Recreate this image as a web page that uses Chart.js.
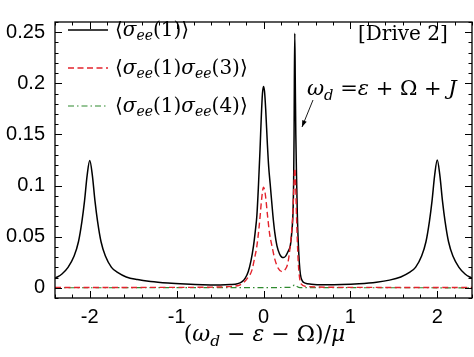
<!DOCTYPE html>
<html><head><meta charset="utf-8">
<script src="https://cdn.jsdelivr.net/npm/chart.js@4"></script>
<style>html,body{margin:0;padding:0;background:#fff}</style>
</head><body>
<canvas id="c" width="474" height="357"></canvas>
<script>
// ---- data ----
const blackX = [-2.40,-2.32,-2.25,-2.18,-2.13,-2.09,-2.06,-2.03,-2.00,-1.97,
  -1.94,-1.91,-1.87,-1.82,-1.75,-1.68,-1.58,-1.45,-1.30,-1.10,
  -0.90,-0.70,-0.50,-0.38,-0.30,-0.25,-0.21,-0.175,-0.145,-0.115,
  -0.095,-0.076,-0.058,-0.040,-0.025,-0.012,0.000,0.012,0.025,0.045,
  0.060,0.077,0.108,0.130,0.155,0.185,0.210,0.230,0.255,0.280,
  0.308,0.325,0.340,0.347,0.352,0.355,0.360,0.366,0.372,0.380,
  0.390,0.400,0.412,0.425,0.445,0.480,0.550,0.700,0.900,1.100,
  1.300,1.450,1.580,1.680,1.750,1.820,1.870,1.910,1.940,1.970,
  2.000,2.030,2.060,2.090,2.130,2.180,2.250,2.320,2.400];
const blackY = [0.0092,0.0135,0.0200,0.0310,0.0450,0.0650,0.0850,0.1100,0.1245,0.1100,
  0.0850,0.0650,0.0450,0.0310,0.0200,0.0150,0.0106,0.0080,0.0062,0.0047,
  0.0037,0.0030,0.0028,0.0032,0.0040,0.0058,0.0095,0.0160,0.0260,0.0410,
  0.0550,0.0710,0.1000,0.1350,0.1680,0.1900,0.1970,0.1920,0.1750,0.1400,
  0.1180,0.1015,0.0710,0.0540,0.0410,0.0330,0.0300,0.0295,0.0310,0.0350,
  0.0410,0.0540,0.0750,0.1050,0.1500,0.2000,0.2490,0.2000,0.1500,0.1100,
  0.0700,0.0450,0.0250,0.0130,0.0070,0.0045,0.0035,0.0030,0.0032,0.0040,
  0.0055,0.0075,0.0106,0.0150,0.0200,0.0310,0.0450,0.0650,0.0850,0.1100,
  0.1250,0.1100,0.0850,0.0650,0.0450,0.0310,0.0200,0.0135,0.0092];
const redX = [-2.40,-1.00,-0.50,-0.35,-0.28,-0.23,-0.18,-0.134,-0.100,-0.076,
  -0.055,-0.038,-0.020,0.000,0.020,0.046,0.070,0.097,0.130,0.170,
  0.212,0.250,0.280,0.308,0.325,0.339,0.350,0.360,0.370,0.380,
  0.390,0.400,0.415,0.430,0.500,1.000,2.400];
const redY = [0.0003,0.0004,0.0008,0.0015,0.0025,0.0050,0.0100,0.0170,0.0300,0.0410,
  0.0560,0.0710,0.0880,0.0985,0.0920,0.0710,0.0530,0.0410,0.0280,0.0190,
  0.0158,0.0180,0.0240,0.0410,0.0560,0.0750,0.1000,0.1170,0.1000,0.0700,
  0.0450,0.0250,0.0100,0.0040,0.0012,0.0004,0.0003];
const greenX = [-2.40,0.00,0.30,0.33,0.36,0.39,0.42,2.40];
const greenY = [0.0000,0.0002,0.0004,0.0010,0.0030,0.0010,0.0002,0.0000];

const xTickValues = [-2,-1,0,1,2];
const xTickLabels = ['-2','-1','0','1','2'];
const yTickValues = [0,0.05,0.1,0.15,0.2,0.25];
const yTickLabels = ['0','0.05','0.1','0.15','0.2','0.25'];

// legend / annotation texts as [text, style] parts (r = roman, i = italic, s = subscript)
const legend1 = [['⟨','r'],['σ','i'],['ee','s'],['(1)','r'],['⟩','r']];
const legend2 = [['⟨','r'],['σ','i'],['ee','s'],['(1)','r'],['σ','i'],['ee','s'],['(3)','r'],['⟩','r']];
const legend3 = [['⟨','r'],['σ','i'],['ee','s'],['(1)','r'],['σ','i'],['ee','s'],['(4)','r'],['⟩','r']];
const driveLabel = [['[Drive 2]','r']];
const resonanceLabel = [['ω','i'],['d','s'],[' =','r'],['ε','i'],[' + Ω + ','r'],['J','i']];
const xTitle = [['(','r'],['ω','i'],['d','s'],[' − ','r'],['ε','i'],[' − Ω)/','r'],['μ','i']];

const BLACK = '#000000', RED = '#e3232c', GREEN = '#2f8a2f';
const MATHFONT = '"DejaVu Serif", "Liberation Serif", serif';

function pts(xs, ys){ return xs.map((x,i)=>({x:x, y:ys[i]})); }

function partsWidth(ctx, parts, size){
  let w=0;
  for(const [t,s] of parts){
    const fs = s==='s' ? size*0.7 : size;
    ctx.font = (s==='r' ? '' : 'italic ') + fs + 'px ' + MATHFONT;
    w += ctx.measureText(t).width;
  }
  return w;
}
function drawParts(ctx, x, y, parts, size){
  ctx.fillStyle = '#000';
  ctx.textBaseline = 'alphabetic';
  ctx.textAlign = 'left';
  for(const [t,s] of parts){
    const fs = s==='s' ? size*0.7 : size;
    const dy = s==='s' ? size*0.22 : 0;
    ctx.font = (s==='r' ? '' : 'italic ') + fs + 'px ' + MATHFONT;
    ctx.fillText(t, x, y+dy);
    x += ctx.measureText(t).width;
  }
  return x;
}

const decor = {
  id:'decor',
  afterDatasetsDraw(chart){
    const ctx = chart.ctx, a = chart.chartArea;
    const xs = chart.scales.x, ys = chart.scales.y;
    ctx.save();
    // frame
    ctx.strokeStyle = '#000'; ctx.lineWidth = 1.3;
    ctx.strokeRect(a.left, a.top, a.right-a.left, a.bottom-a.top);
    // ticks (inside, on all four sides)
    ctx.lineWidth = 1;
    ctx.beginPath();
    for(let k=-12;k<=12;k++){
      const v = k*0.2;
      const px = Math.round(xs.getPixelForValue(v))+0.5;
      const major = Math.abs(v - Math.round(v)) < 1e-6;
      const L = major ? 7 : 3.5;
      ctx.moveTo(px, a.bottom); ctx.lineTo(px, a.bottom-L);
      ctx.moveTo(px, a.top); ctx.lineTo(px, a.top+L);
    }
    for(let k=-1;k<=26;k++){
      const v = k*0.01;
      const py = Math.round(ys.getPixelForValue(v))+0.5;
      const major = k%5===0;
      const L = major ? 7 : 3.5;
      ctx.moveTo(a.left, py); ctx.lineTo(a.left+L, py);
      ctx.moveTo(a.right, py); ctx.lineTo(a.right-L, py);
    }
    ctx.stroke();
    // legend
    const ds = chart.data.datasets;
    const rows = [[legend1, 30, 0],[legend2, 68, 1],[legend3, 106, 2]];
    for(const [parts, yy, di] of rows){
      const d = ds[di];
      ctx.strokeStyle = d.borderColor; ctx.lineWidth = d.borderWidth;
      ctx.setLineDash(d.borderDash || []);
      ctx.beginPath(); ctx.moveTo(68, yy); ctx.lineTo(108, yy); ctx.stroke();
      ctx.setLineDash([]);
      drawParts(ctx, 115, yy+6, parts, 20);
    }
    // annotations
    drawParts(ctx, 358, 40, driveLabel, 20);
    drawParts(ctx, 307, 95, resonanceLabel, 21);
    // arrow
    ctx.strokeStyle='#000'; ctx.lineWidth=0.9;
    const x1=313,y1=100,x2=302,y2=127;
    ctx.beginPath(); ctx.moveTo(x1,y1); ctx.lineTo(x2,y2); ctx.stroke();
    const ang = Math.atan2(y2-y1,x2-x1);
    ctx.fillStyle='#000';
    ctx.beginPath();
    ctx.moveTo(x2,y2);
    ctx.lineTo(x2-7*Math.cos(ang-0.35), y2-7*Math.sin(ang-0.35));
    ctx.lineTo(x2-7*Math.cos(ang+0.35), y2-7*Math.sin(ang+0.35));
    ctx.closePath(); ctx.fill();
    // x axis title
    const w = partsWidth(ctx, xTitle, 22);
    drawParts(ctx, (a.left+a.right)/2 - w/2 + 1, 341, xTitle, 22);
    ctx.restore();
  }
};

new Chart(document.getElementById('c'), {
  type:'scatter',
  data:{ datasets:[
    {label:'black', data:pts(blackX,blackY), showLine:true, borderColor:BLACK, borderWidth:1.5, pointRadius:0, fill:false, cubicInterpolationMode:'monotone', order:2},
    {label:'red', data:pts(redX,redY), showLine:true, borderColor:RED, borderWidth:1.4, borderDash:[6,3.5], pointRadius:0, fill:false, cubicInterpolationMode:'monotone', order:0},
    {label:'green', data:pts(greenX,greenY), showLine:true, borderColor:GREEN, borderWidth:1.2, borderDash:[6,3,1.5,3], pointRadius:0, fill:false, cubicInterpolationMode:'monotone', order:1}
  ]},
  options:{
    responsive:false, animation:false, devicePixelRatio:1,
    layout:{padding:{left:0,right:2,top:1,bottom:0}},
    plugins:{legend:{display:false}, tooltip:{enabled:false}},
    elements:{point:{radius:0}},
    scales:{
      x:{type:'linear', min:-2.4, max:2.4,
         grid:{display:false, drawTicks:false}, border:{display:false},
         afterBuildTicks:s=>{ s.ticks = xTickValues.map(v=>({value:v})); },
         ticks:{padding:7, color:'#000', font:{family:'"Liberation Sans", Arial, sans-serif', size:20},
                autoSkip:false, maxRotation:0, callback:(v,i)=>xTickLabels[i]},
         afterFit:s=>{ s.height = 59; }},
      y:{type:'linear', min:-0.01, max:0.26,
         grid:{display:false, drawTicks:false}, border:{display:false},
         afterBuildTicks:s=>{ s.ticks = yTickValues.map(v=>({value:v})); },
         ticks:{padding:10, color:'#000', font:{family:'"Liberation Sans", Arial, sans-serif', size:20},
                autoSkip:false, callback:(v,i)=>yTickLabels[i]},
         afterFit:s=>{ s.height; s.width = 55; }}
    }
  },
  plugins:[decor]
});
</script>
</body></html>
